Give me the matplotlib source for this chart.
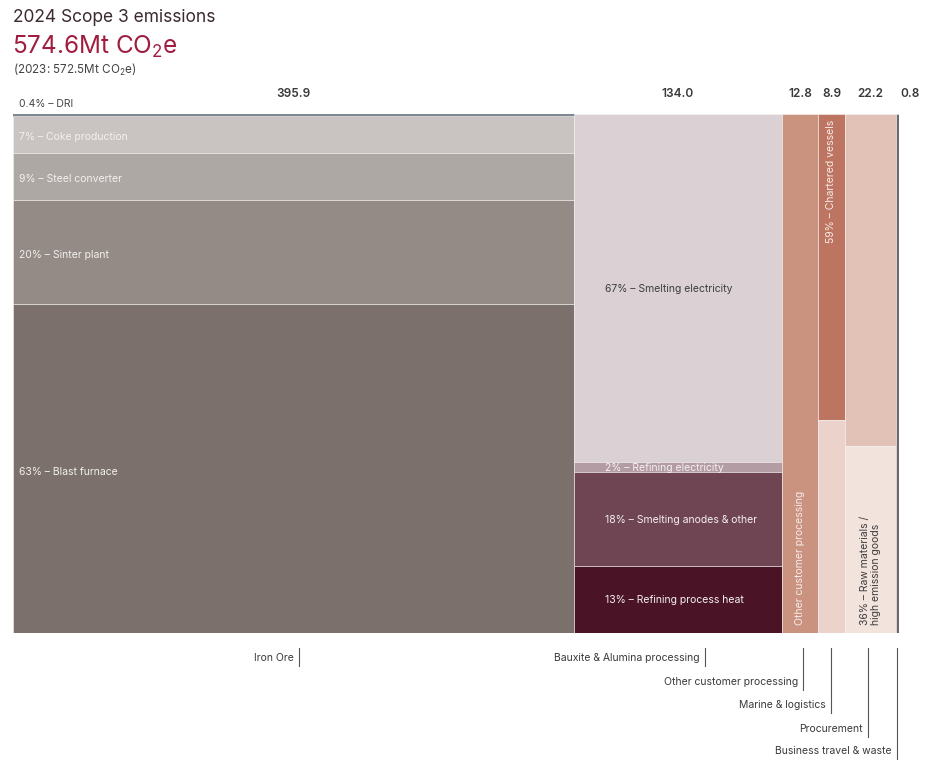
import matplotlib
matplotlib.use("Agg")
import matplotlib.pyplot as plt
import matplotlib.transforms as mtransforms

plt.rcParams['font.family'] = ['Inter', 'DejaVu Sans']
plt.rcParams['mathtext.fontset'] = 'custom'
plt.rcParams['mathtext.rm'] = 'Inter'
plt.rcParams['mathtext.it'] = 'Inter'

# ---- data ----
categories = ['Iron Ore', 'Bauxite & Alumina processing', 'Other customer processing',
              'Marine & logistics', 'Procurement', 'Business travel & waste']
totals = [395.9, 134.0, 12.8, 8.9, 22.2, 0.8]

seg_names = [
    ['DRI', 'Coke production', 'Steel converter', 'Sinter plant', 'Blast furnace'],
    ['Smelting electricity', 'Refining electricity', 'Smelting anodes & other', 'Refining process heat'],
    ['Other customer processing'],
    ['Chartered vessels', 'Other'],
    ['Other', 'Raw materials /\nhigh emission goods'],
    ['Business travel & waste'],
]
seg_shares = [
    [0.4, 7, 9, 20, 63],
    [67, 2, 18, 13],
    [100],
    [59, 41],
    [64, 36],
    [100],
]

# ---- layout / style ----
W, H = 927, 775
col_widths = [561, 208, 36, 27, 51, 3]          # drawn widths (px)
line_x = [286, 692, 790, 818, 855, 884]          # leader line x (px from chart left)
label_y = [658, 658, 682, 705, 729, 751]         # bottom label rows (px)
seg_colors = [
    ['#7f8791', '#c9c4c1', '#aea8a4', '#948b86', '#7b706b'],
    ['#dbd1d5', '#b49ca4', '#6f4453', '#4a1426'],
    ['#c9937f'],
    ['#bd7561', '#ebd3cb'],
    ['#e2c1b6', '#f2e3dd'],
    ['#6e6966'],
]
seg_text_colors = [
    ['#444444', '#f2f0ef', '#f2f0ef', '#f2f0ef', '#f2f0ef'],
    ['#3d3d3d', '#f5f0f2', '#f5f0f2', '#f5f0f2'],
    ['#f7ece8'],
    ['#f7ece8', None],
    [None, '#3d3d3d'],
    [None],
]

fig = plt.figure(figsize=(W / 100, H / 100), dpi=100)
left, top, bottom = 13, 114, 633
ax = fig.add_axes([left / W, 1 - bottom / H, sum(col_widths) / W, (bottom - top) / H])
ax.set_xlim(0, sum(col_widths))
ax.set_ylim(100, 0)
ax.axis('off')

trans = mtransforms.blended_transform_factory(ax.transData, ax.transAxes)


def ay(pix):
    return (bottom - pix) / (bottom - top)


x0 = 0
for ci, (cat, tot) in enumerate(zip(categories, totals)):
    w = col_widths[ci]
    shares = seg_shares[ci]
    scale = 100 / sum(shares)
    y0 = 0
    for si, share in enumerate(shares):
        h = share * scale
        col = seg_colors[ci][si]
        if share < 1:
            # very thin slice: thicken with its own edge so it stays visible
            ax.bar(x0, h, width=w, bottom=y0, align='edge', color=col,
                   edgecolor=col, linewidth=1.4)
        else:
            ax.bar(x0, h, width=w, bottom=y0, align='edge', color=col,
                   edgecolor='#f4f2f1', linewidth=0.4)
        name = seg_names[ci][si]
        tc = seg_text_colors[ci][si]
        if tc is not None:
            label = f'{share:g}% – {name}'
            if ci == 0:
                if si == 0:
                    ax.text(x0 + 6, ay(104), label, transform=trans, fontsize=7.5,
                            color=tc, va='center', ha='left')
                else:
                    ax.text(x0 + 6, y0 + h / 2 + 0.6, label, fontsize=7.5, color=tc,
                            va='center', ha='left')
            elif ci == 1:
                yy = y0 + h / 2 if si != 0 else 33.5
                ax.text(x0 + 31, yy + 0.2, label, fontsize=7.5, color=tc, va='center', ha='left')
            elif ci == 2:
                ax.text(x0 + w / 2, 98.5, name, fontsize=7.5, color=tc, rotation=90,
                        va='bottom', ha='center')
            elif ci == 3:
                ax.text(x0 + w / 2, 1.2, label, fontsize=7.5, color=tc, rotation=90,
                        va='top', ha='center')
            elif ci == 4:
                ax.text(x0 + w / 2, 98.5, label, fontsize=7.5, color=tc, rotation=90,
                        va='bottom', ha='center', multialignment='left', linespacing=1.1)
        y0 += h

    # value label on top
    vx = x0 + w / 2 if ci < 5 else x0 + w / 2 + 13
    ax.text(vx, ay(94), f'{tot:.1f}', transform=trans, fontsize=8.5, fontweight='semibold',
            color='#3a3a3a', ha='center', va='center')

    # bottom leader line + category label
    lx = line_x[ci]
    ax.plot([lx, lx], [ay(648), ay(label_y[ci] + 8)], transform=trans, color='#555555',
            linewidth=0.8, clip_on=False)
    ax.text(lx - 5, ay(label_y[ci]), cat, transform=trans, fontsize=7.5, color='#3a3a3a',
            ha='right', va='center')
    x0 += w

# ---- headings ----
fig.text(13 / W, 1 - 17 / H, '2024 Scope 3 emissions', fontsize=12.5, color='#3b2a31',
         ha='left', va='center')
fig.text(12 / W, 1 - 47 / H, '574.6Mt CO$_2$e', fontsize=17.5, color='#a01d40',
         ha='left', va='center')
fig.text(13 / W, 1 - 70 / H, '(2023: 572.5Mt CO$_2$e)', fontsize=8.4, color='#444444',
         ha='left', va='center')

fig.savefig('out.png', dpi=100, facecolor='white')
